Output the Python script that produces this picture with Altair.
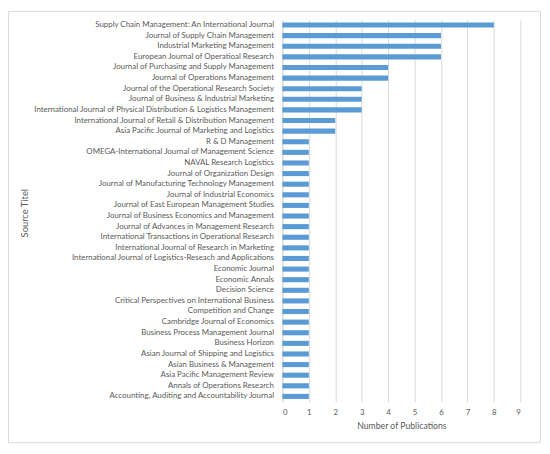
import altair as alt
import pandas as pd

titles = [
    "Supply Chain Management: An International Journal",
    "Journal of Supply Chain Management",
    "Industrial Marketing Management",
    "European Journal of Operatioal Research",
    "Journal of Purchasing and Supply Management",
    "Journal of Operations Management",
    "Journal of the Operational Research Society",
    "Journal of Business & Industrial Marketing",
    "International Journal of Physical Distribution & Logistics Management",
    "International Journal of Retail & Distribution Management",
    "Asia Pacific Journal of Marketing and Logistics",
    "R & D Management",
    "OMEGA-International Journal of Management Science",
    "NAVAL Research Logistics",
    "Journal of Organization Design",
    "Journal of Manufacturing Technology Management",
    "Journal of Industrial Economics",
    "Journal of East European Management Studies",
    "Journal of Business Economics and Management",
    "Journal of Advances in Management Research",
    "International Transactions in Operational Research",
    "International Journal of Research in Marketing",
    "International Journal of  Logistics-Reseach and Applications",
    "Economic Journal",
    "Economic Annals",
    "Decision Science",
    "Critical Perspectives on International Business",
    "Competition and Change",
    "Cambridge Journal of Economics",
    "Business Process Management Journal",
    "Business Horizon",
    "Asian Journal of Shipping and Logistics",
    "Asian Business & Management",
    "Asia Pacific Management Review",
    "Annals of Operations Research",
    "Accounting, Auditing and Accountability Journal",
]
counts = [8, 6, 6, 6, 4, 4, 3, 3, 3, 2, 2] + [1] * 25

df = pd.DataFrame({"title": titles, "count": counts})

W, H = 241, 387
PL, PT, PR, PB = 278, 9, 22, 43
FONT = "Lato"

border = alt.Chart(pd.DataFrame({"a": [0]})).mark_rect(
    fill=None, stroke="#D9D9D9", strokeWidth=1
).encode(
    x=alt.value(-PL + 0.5), x2=alt.value(W + PR - 1.5),
    y=alt.value(-PT + 0.5), y2=alt.value(H + PB - 1.5),
)

bars = alt.Chart(df).mark_bar(color="#5B9BD5", fill="#5B9BD5").encode(
    x=alt.X("count:Q", title="Number of Publications",
            scale=alt.Scale(domain=[0, 9], nice=False),
            axis=alt.Axis(values=list(range(10)), tickCount=10, grid=True,
                          gridColor="#D9D9D9", domain=False, ticks=False,
                          labelPadding=7, titlePadding=5,
                          labelFontSize=8, titleFontSize=8.8)),
    y=alt.Y("title:N", title="Source Titel", sort=titles,
            scale=alt.Scale(paddingInner=0.52, paddingOuter=0.26),
            axis=alt.Axis(domain=True, domainColor="#D9D9D9", ticks=False,
                          labelPadding=9, labelLimit=400,
                          labelFontSize=8, titleFontSize=9.5,
                          titleX=-261, titleY=H / 2 + 2, titleAngle=270,
                          titleAlign="center", titleBaseline="middle")),
)

chart = alt.layer(border, bars).properties(
    width=W, height=H,
    autosize=alt.AutoSizeParams(type="none"),
    padding={"left": PL, "top": PT, "right": PR, "bottom": PB},
).configure_view(stroke=None).configure_axis(
    labelFont=FONT, titleFont=FONT,
    labelColor="#595959", titleColor="#595959",
    titleFontWeight="normal",
)

chart.save("out.html", embed_options={"renderer": "svg", "actions": False})
